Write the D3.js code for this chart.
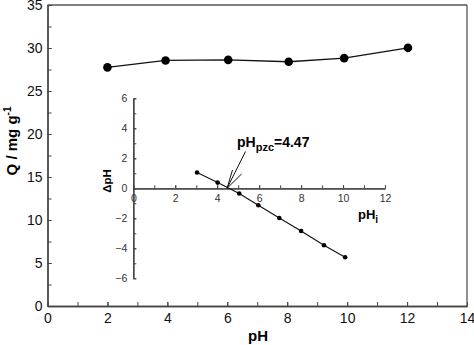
<!DOCTYPE html>
<html><head><meta charset="utf-8">
<script src="https://cdn.jsdelivr.net/npm/d3@7"></script>
<style>
body{margin:0;background:#fff;}
svg{font-family:"Liberation Sans",Arial,sans-serif;}
</style></head>
<body>
<svg id="c" width="474" height="345"></svg>
<script>
// Main series: adsorption capacity vs pH
const mainPH = [2.0, 3.94, 6.03, 8.05, 9.9, 12.03];
const mainQ  = [27.75, 28.55, 28.62, 28.4, 28.82, 30.02];
const mainXTicks = [0, 2, 4, 6, 8, 10, 12, 14];
const mainYTicks = [0, 5, 10, 15, 20, 25, 30, 35];
// Inset series: ΔpH vs initial pH
const insetPHi = [3.04, 4.02, 5.05, 5.96, 6.96, 8.0, 9.09, 10.1];
const insetDpH = [1.05, 0.38, -0.35, -1.13, -1.98, -2.85, -3.8, -4.6];
const insetXTicks = [0, 2, 4, 6, 8, 10, 12];
const insetYTicks = [-6, -4, -2, 0, 2, 4, 6];
const pzc = 4.47;

const svg = d3.select("#c");
const axisCol = "#444";

const x = d3.scaleLinear([0, 14], [47.5, 467]);
const y = d3.scaleLinear([0, 35], [306, 5]);

function style(g, fs){
  g.selectAll("path.domain").attr("stroke", axisCol).attr("stroke-width", 1.3);
  g.selectAll(".tick line").attr("stroke", axisCol).attr("stroke-width", 1);
  g.selectAll(".tick text").attr("fill", "#111").attr("font-size", fs)
    .attr("font-family", '"Liberation Sans",Arial,sans-serif');
}

// frame top & right
svg.append("line").attr("x1", x(0)).attr("x2", x(14)).attr("y1", y(35)).attr("y2", y(35))
  .attr("stroke", "#555").attr("stroke-width", 1.3);
svg.append("line").attr("x1", x(14)).attr("x2", x(14)).attr("y1", y(35)).attr("y2", y(0))
  .attr("stroke", "#555").attr("stroke-width", 1.3);

// main x minor
const gxm = svg.append("g").attr("transform", `translate(0,${y(0)})`)
  .call(d3.axisBottom(x).tickValues(d3.range(0, 15, 1)).tickSize(-4).tickSizeOuter(0).tickFormat(""));
style(gxm, 14);
const gx = svg.append("g").attr("transform", `translate(0,${y(0)})`)
  .call(d3.axisBottom(x).tickValues(mainXTicks).tickSize(-4).tickSizeOuter(0).tickPadding(7).tickFormat(d3.format("d")));
style(gx, 14);

const gym = svg.append("g").attr("transform", `translate(${x(0)},0)`)
  .call(d3.axisLeft(y).tickValues(d3.range(0, 35.1, 2.5)).tickSize(-4).tickSizeOuter(0).tickFormat(""));
style(gym, 14);
const gy = svg.append("g").attr("transform", `translate(${x(0)},0)`)
  .call(d3.axisLeft(y).tickValues(mainYTicks).tickSize(-4).tickSizeOuter(0).tickPadding(5).tickFormat(d3.format("d")));
style(gy, 14);

// main line + points
const line = d3.line().x((d, i) => x(mainPH[i])).y(d => y(d));
svg.append("path").datum(mainQ).attr("d", line).attr("fill", "none").attr("stroke", "#111").attr("stroke-width", 1.3);
svg.selectAll("circle.m").data(mainQ).join("circle").attr("class", "m")
  .attr("cx", (d, i) => x(mainPH[i])).attr("cy", d => y(d)).attr("r", 4.3).attr("fill", "#000");

// axis titles
svg.append("text").attr("x", 258).attr("y", 341).attr("text-anchor", "middle")
  .attr("font-size", 15).attr("font-weight", "bold").text("pH");
const qt = svg.append("text").attr("transform", "translate(17,141) rotate(-90)").attr("text-anchor", "middle")
  .attr("font-size", 15).attr("font-weight", "bold");
qt.append("tspan").text("Q / mg g");
qt.append("tspan").attr("dy", -6).attr("font-size", 10).text("-1");

// inset
const ix = d3.scaleLinear([0, 12], [133.3, 385]);
const iy = d3.scaleLinear([-6, 6], [278.3, 98.3]);

const ixm = svg.append("g").attr("transform", `translate(0,${iy(0)})`)
  .call(d3.axisBottom(ix).tickValues(d3.range(0, 13, 1)).tickSize(-3).tickSizeOuter(0).tickFormat(""));
style(ixm, 10);
const ixa = svg.append("g").attr("transform", `translate(0,${iy(0)})`)
  .call(d3.axisBottom(ix).tickValues(insetXTicks).tickSize(-3).tickSizeOuter(0).tickPadding(6).tickFormat(d3.format("d")));
style(ixa, 10.5);
ixa.selectAll(".tick text").attr("fill", "#333");

const iym = svg.append("g").attr("transform", `translate(${ix(0)},0)`)
  .call(d3.axisLeft(iy).tickValues(d3.range(-6, 6.1, 1)).tickSize(-3).tickSizeOuter(0).tickFormat(""));
style(iym, 10);
const iya = svg.append("g").attr("transform", `translate(${ix(0)},0)`)
  .call(d3.axisLeft(iy).tickValues(insetYTicks).tickSize(-3).tickSizeOuter(0).tickPadding(6).tickFormat(d3.format("d")));
style(iya, 10.5);
iya.selectAll(".tick text").attr("fill", "#333");

const iline = d3.line().x((d, i) => ix(insetPHi[i])).y(d => iy(d));
svg.append("path").datum(insetDpH).attr("d", iline).attr("fill", "none").attr("stroke", "#111").attr("stroke-width", 1.1);
svg.selectAll("circle.i").data(insetDpH).join("circle").attr("class", "i")
  .attr("cx", (d, i) => ix(insetPHi[i])).attr("cy", d => iy(d)).attr("r", 2.3).attr("fill", "#000");

// inset axis titles
svg.append("text").attr("transform", "translate(111,181) rotate(-90)").attr("text-anchor", "middle")
  .attr("font-size", 11.5).attr("font-weight", "bold").text("ΔpH");
const pt = svg.append("text").attr("x", 358).attr("y", 219).attr("font-size", 13).attr("font-weight", "bold");
pt.append("tspan").text("pH");
pt.append("tspan").attr("dy", 4).attr("font-size", 10).text("i");

// annotation
const tipX = ix(pzc), tipY = iy(0);
const arrow = [[245.5, 151.5], [232.5, 170], [241.5, 174]];
svg.selectAll("line.ar").data(arrow).join("line").attr("class", "ar")
  .attr("x1", d => d[0]).attr("y1", d => d[1]).attr("x2", tipX).attr("y2", tipY)
  .attr("stroke", "#111").attr("stroke-width", 1);
const at = svg.append("text").attr("x", 237).attr("y", 147).attr("font-size", 14).attr("font-weight", "bold");
at.append("tspan").text("pH");
at.append("tspan").attr("dy", 4).attr("font-size", 11).text("pzc");
at.append("tspan").attr("dy", -4).text("=" + pzc);
</script>
</body></html>
